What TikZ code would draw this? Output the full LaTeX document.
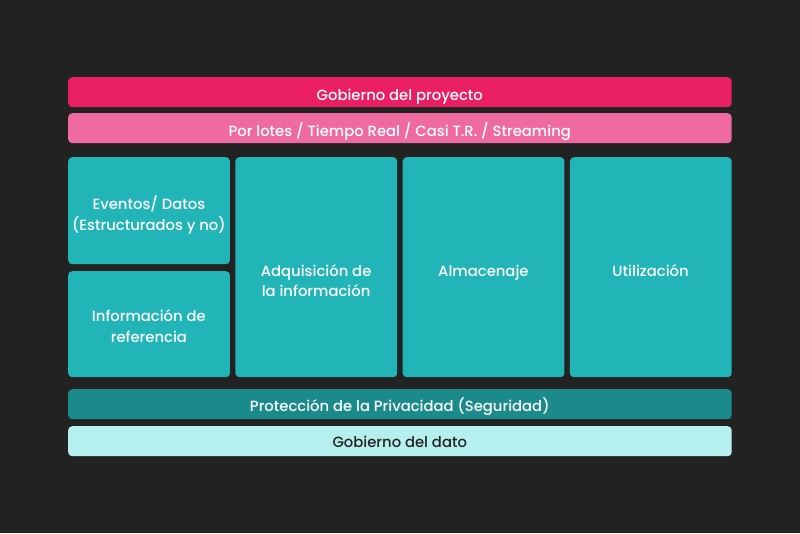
\documentclass[tikz,border=0pt]{standalone}
\usepackage{fontspec}
\setmainfont{Poppins}[UprightFont=* Medium]
\definecolor{bg}{HTML}{222222}
\definecolor{gproj}{HTML}{E91E63}
\definecolor{lotes}{HTML}{EF6AA1}
\definecolor{tealbox}{HTML}{22B5B8}
\definecolor{prot}{HTML}{1B8A8B}
\definecolor{gdato}{HTML}{B6F0EE}
\definecolor{darktext}{HTML}{222222}
\tikzset{
  box/.style={rectangle, rounded corners=4pt, inner sep=0pt, anchor=north west},
  bar/.style={box, minimum width=663.5pt, minimum height=30pt},
  col/.style={box, minimum width=161.75pt},
  lbl/.style={inner sep=0pt, anchor=base, align=center, text=white, font=\fontsize{14.8}{20.5}\selectfont},
}
\begin{document}
\begin{tikzpicture}[x=1pt,y=-1pt]
\fill[bg] (0,0) rectangle (800,533);
\useasboundingbox (0,0) rectangle (800,533);
% bars
\node[bar, fill=gproj] (gp) at (68,77) {};
\node[bar, fill=lotes] (lt) at (68,113) {};
\node[bar, fill=prot] (pr) at (68,389) {};
\node[bar, fill=gdato] (gd) at (68,426) {};
% columns
\node[col, fill=tealbox, minimum height=107pt] (ev) at (68,157) {};
\node[col, fill=tealbox, minimum height=106pt] (in) at (68,271) {};
\node[col, fill=tealbox, minimum height=220pt] (ad) at (235.25,157) {};
\node[col, fill=tealbox, minimum height=220pt] (al) at (402.5,157) {};
\node[col, fill=tealbox, minimum height=220pt] (ut) at (569.75,157) {};
% labels (base anchor = baseline of last line)
\node[lbl] (tgp) at (399.75,100) {Gobierno del proyecto};
\node[lbl] (tlt) at (399.75,136) {Por lotes / Tiempo Real / Casi T.R. / Streaming};
\node[lbl] (tev) at (148.9,230) {Eventos/ Datos\\(Estructurados y no)};
\node[lbl] (tin) at (148.9,342) {Información de\\referencia};
\node[lbl] (tad) at (316.1,296.5) {Adquisición de\\la información};
\node[lbl] (tal) at (483.4,276) {Almacenaje};
\node[lbl] (tut) at (650.6,276) {Utilización};
\node[lbl] (tpr) at (399.75,411) {Protección de la Privacidad (Seguridad)};
\node[lbl, text=darktext] (tgd) at (399.75,447) {Gobierno del dato};
\end{tikzpicture}
\end{document}
